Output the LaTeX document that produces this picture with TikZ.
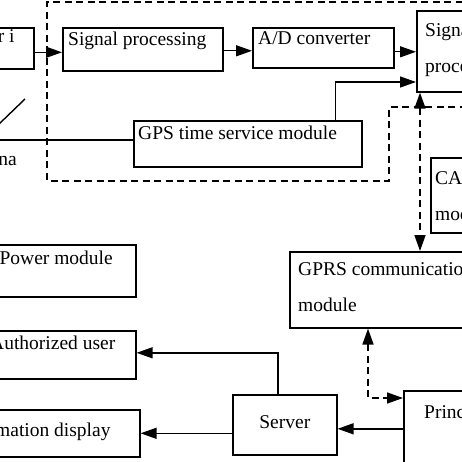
\documentclass[tikz,border=0pt]{standalone}
\usepackage{fontspec}
\setmainfont{Liberation Serif}
\usetikzlibrary{arrows.meta}

\begin{document}
\begin{tikzpicture}[
            x=1pt, y=-1pt,
            font=\fontsize{19.5}{36}\selectfont,
            box/.style={draw, line width=1.6pt, anchor=north west, inner sep=0pt},
            txt/.style={anchor=base west, inner sep=0pt, align=left},
            link/.style={line width=1.4pt},
            arr/.style={link, -{Triangle[length=16pt, width=11pt]}},
            dashline/.style={line width=1.6pt, dash pattern=on 7pt off 4.5pt},
            dualarr/.style={dashline, {Triangle[length=16pt, width=11pt]}-{Triangle[length=16pt, width=11pt]}}
        ]
            \useasboundingbox (0,0) rectangle (462,462);
            \clip (0,0) rectangle (462,462);

            % acquisition part
            \node[box, minimum width=88pt, minimum height=41pt] (sensor) at (-55,27) {};
            \node[txt] (sensortxt) at ([shift={(6,16)}]sensor.north west) {Sensor i};
            \node[box, minimum width=160pt, minimum height=43pt] (sigproc) at (62,27) {};
            \node[txt] (sigproctxt) at ([shift={(6,19)}]sigproc.north west) {Signal processing};
            \node[box, minimum width=141pt, minimum height=40pt] (adconv) at (252,27) {};
            \node[txt] (adconvtxt) at ([shift={(6,18)}]adconv.north west) {A/D converter};
            \node[box, minimum width=90pt, minimum height=81pt] (mcu) at (416,10) {};
            \node[txt] (mcutxt) at ([shift={(9,63)}]mcu.north west) {Signal\\processor};
            \node[box, minimum width=228pt, minimum height=46pt] (gps) at (133,120) {};
            \node[txt] (gpstxt) at ([shift={(5,20)}]gps.north west) {GPS time service module};

            \coordinate (ant) at (-10,140);
            \draw[link] (ant) -- (ant -| gps.west);
            \draw[link] (-3,126) -- (25,99);
            \node[anchor=base east, inner sep=0pt] (anttxt) at (17,166) {Antenna};

            \draw[dashline] (520,2) -- (47,2) -- (47,181) -- (389,181) -- (389,107) -- (520,107);

            \draw[arr] ([yshift=-4pt]sensor.east) -- ([yshift=-4pt]sensor.east -| sigproc.west);
            \draw[arr] ([yshift=-1.5pt]sigproc.east) -- ([yshift=-1.5pt]sigproc.east -| adconv.west);
            \draw[arr] ([yshift=-4pt]adconv.east) -- ([yshift=-4pt]adconv.east -| mcu.west);
            \draw[arr] ([xshift=-27pt]gps.north east) |- ([yshift=-72pt]mcu.north west);

            % communication part
            \node[box, minimum width=90pt, minimum height=75pt] (can) at (430,157) {};
            \node[txt] (cantxt) at ([shift={(5,63)}]can.north west) {CAN\\module};
            \node[box, minimum width=231pt, minimum height=76pt] (gprs) at (289,251) {};
            \node[txt] (gprstxt) at ([shift={(9,60)}]gprs.north west) {GPRS communication\\module};
            \draw[dualarr] ([xshift=4pt]mcu.south west) -- ([xshift=4pt]mcu.south west |- gprs.north);

            % terminal part
            \node[box, minimum width=141pt, minimum height=52pt] (power) at (-6,244) {};
            \node[txt] (powertxt) at ([shift={(5.4,20)}]power.north west) {Power module};
            \node[box, minimum width=150pt, minimum height=48pt] (auth) at (-15,330) {};
            \node[txt] (authtxt) at ([shift={(5,19)}]auth.north west) {Authorized user};
            \node[box, minimum width=189pt, minimum height=47pt] (info) at (-50,409) {};
            \node[txt] (infotxt) at ([shift={(6,27)}]info.north west) {Information display};
            \node[box, minimum width=104pt, minimum height=60pt] (server) at (232,394) {};
            \node (servertxt) at ([yshift=3pt]server.center) {Server};
            \node[box, minimum width=117pt, minimum height=76pt] (princ) at (403,390) {};
            \node[txt] (princtxt) at ([shift={(21,28)}]princ.north west) {Principal computer};

            \draw[dualarr] (gprs.south -| 368,0) |- ([yshift=-8pt]princ.north west);
            \draw[arr] (princ.west) -- (princ.west -| server.east);
            \draw[arr] (info.east -| server.west) -- (info.east);
            \draw[arr] ([xshift=-7pt]server.north) |- ([yshift=2pt]auth.east);
        \end{tikzpicture}
\end{document}
